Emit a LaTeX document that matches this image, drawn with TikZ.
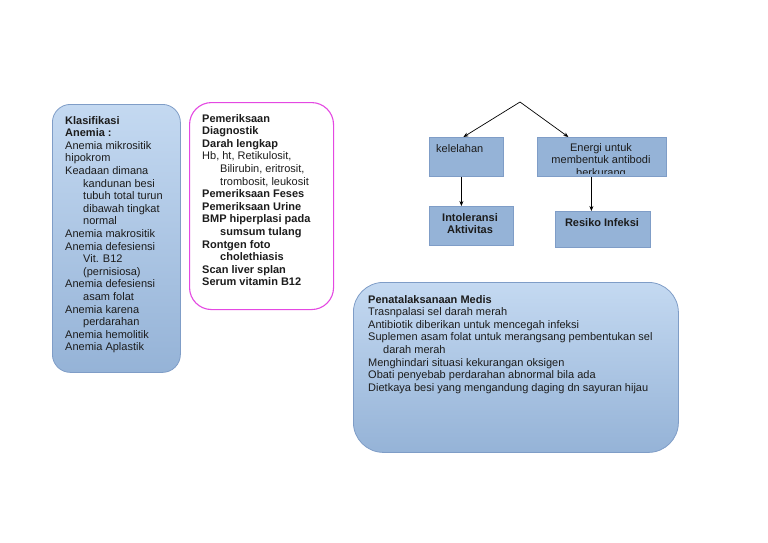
\documentclass[tikz,border=0pt]{standalone}
\usepackage{fontspec}
\setmainfont{Liberation Sans}
\usepackage{xcolor}
\usepackage{tikz}
\usetikzlibrary{arrows.meta}
\definecolor{boxblue}{HTML}{95B3D7}
\definecolor{boxline}{HTML}{7F9DC7}
\definecolor{lightblue}{HTML}{C4D9F1}
\definecolor{pinkline}{HTML}{E448E2}
\definecolor{txtdark}{HTML}{1C1C1C}
\newcommand{\ind}{\hspace*{18pt}}

\begin{document}
\begin{tikzpicture}[x=1pt, y=-1pt,
		every node/.style={inner sep=0pt, text=txtdark, font=\fontsize{11}{12.6}\selectfont},
		roundbox/.style={draw=boxline, line width=0.8pt, top color=lightblue, bottom color=boxblue, anchor=north west},
		flatbox/.style={draw=boxline, line width=0.8pt, fill=boxblue, anchor=north west},
		txt/.style={align=left, anchor=north west},
		arr/.style={-{Stealth[length=5pt, width=4pt]}, line width=0.7pt}]
			\useasboundingbox (0,0) rectangle (768,542);
			% Boxes
			\node[roundbox, rounded corners=18pt, minimum width=128pt, minimum height=268pt] (klasifikasi) at (52,104) {};
			\node[draw=pinkline, line width=1.1pt, fill=white, rounded corners=22pt, minimum width=144pt, minimum height=207pt, anchor=north west] (diagnostik) at (189,102) {};
			\node[roundbox, rounded corners=30pt, minimum width=325pt, minimum height=170pt] (medis) at (353,282) {};
			\node[flatbox, minimum width=74pt, minimum height=39pt] (kelelahan) at (429,137) {};
			\node[flatbox, minimum width=129pt, minimum height=39pt] (energi) at (537,137) {};
			\node[flatbox, minimum width=84pt, minimum height=39pt] (intoleransi) at (429,206) {};
			\node[flatbox, minimum width=95pt, minimum height=36pt] (infeksi) at (555,211) {};
			\coordinate (puncak) at (520,102);
			% Texts
			\node[txt] (klasifikasiT) at (65,116) {\textbf{Klasifikasi}\\
				\textbf{Anemia :}\\
				Anemia mikrositik\\
				hipokrom\\
				Keadaan dimana\\
				\ind kandunan besi\\
				\ind tubuh total turun\\
				\ind dibawah tingkat\\
				\ind normal\\
				Anemia makrositik\\
				Anemia defesiensi\\
				\ind Vit. B12\\
				\ind (pernisiosa)\\
				Anemia defesiensi\\
				\ind asam  folat\\
				Anemia karena\\
				\ind perdarahan\\
				Anemia hemolitik\\
				Anemia Aplastik};
			\node[txt] (diagnostikT) at (202,114) {\textbf{Pemeriksaan}\\
				\textbf{Diagnostik}\\
				\textbf{Darah lengkap}\\
				Hb, ht, Retikulosit,\\
				\ind Bilirubin, eritrosit,\\
				\ind trombosit, leukosit\\
				\textbf{Pemeriksaan Feses}\\
				\textbf{Pemeriksaan Urine}\\
				\textbf{BMP hiperplasi pada}\\
				\ind\textbf{sumsum tulang}\\
				\textbf{Rontgen foto}\\
				\ind\textbf{cholethiasis}\\
				\textbf{Scan liver splan}\\
				\textbf{Serum vitamin B12}};
			\node[txt] (medisT) at (368,295) {\textbf{Penatalaksanaan Medis}\\
				Trasnpalasi sel darah merah\\
				Antibiotik diberikan untuk mencegah infeksi\\
				Suplemen asam folat untuk merangsang pembentukan sel\\
				\hspace*{15pt}darah merah\\
				Menghindari situasi kekurangan oksigen\\
				Obati penyebab perdarahan abnormal bila ada\\
				Dietkaya besi yang mengandung daging dn sayuran hijau};
			\node[txt] (kelelahanT) at (436,144) {kelelahan};
			\begin{scope}
				\clip (energi.north west) rectangle ([yshift=3pt]energi.south east);
				\node[align=center, anchor=north] (energiT) at (601,143) {Energi untuk\\ membentuk antibodi\\ berkurang};
			\end{scope}
			\node[align=center, anchor=north, font=\fontsize{11}{12.6}\selectfont\bfseries] (intoleransiT) at (470,213) {Intoleransi\\ Aktivitas};
			\node[anchor=north, font=\fontsize{11}{12.6}\selectfont\bfseries] (infeksiT) at (602,218) {Resiko Infeksi};
			% Arrows
			\draw[arr] (puncak) -- ([xshift=-3pt]kelelahan.north);
			\draw[arr] (puncak) -- ([xshift=-33.5pt]energi.north);
			\draw[arr] ([xshift=-5pt]kelelahan.south) -- ([xshift=-10pt]intoleransi.north);
			\draw[arr] ([xshift=-10.5pt]energi.south) -- ([xshift=-11.5pt]infeksi.north);
		\end{tikzpicture}
\end{document}
